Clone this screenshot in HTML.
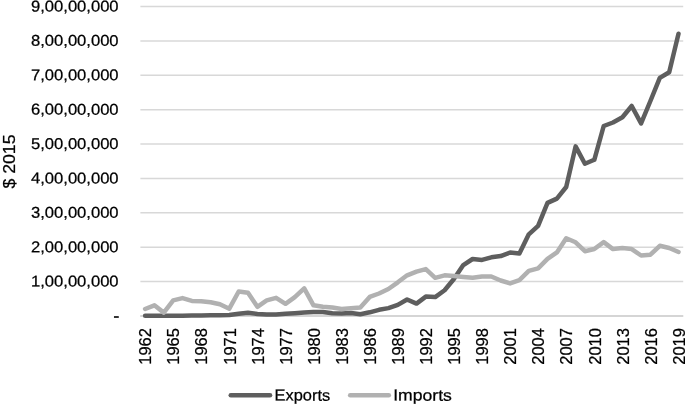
<!DOCTYPE html>
<html><head><meta charset="utf-8"><title>Exports and Imports</title>
<style>
html,body{margin:0;padding:0;background:#fff;}
body{width:685px;height:404px;overflow:hidden;}
svg{display:block;}
text{font-family:"Liberation Sans",sans-serif;fill:#000;stroke:#000;stroke-width:0.25px;}
</style></head><body>
<svg width="685" height="404" viewBox="0 0 685 404">
<rect width="685" height="404" fill="#fff"/>

<g stroke="#d8d8d8" stroke-width="1.5" fill="none">
<line x1="140.4" y1="6.50" x2="683.2" y2="6.50"/>
<line x1="140.4" y1="40.89" x2="683.2" y2="40.89"/>
<line x1="140.4" y1="75.28" x2="683.2" y2="75.28"/>
<line x1="140.4" y1="109.67" x2="683.2" y2="109.67"/>
<line x1="140.4" y1="144.06" x2="683.2" y2="144.06"/>
<line x1="140.4" y1="178.45" x2="683.2" y2="178.45"/>
<line x1="140.4" y1="212.84" x2="683.2" y2="212.84"/>
<line x1="140.4" y1="247.23" x2="683.2" y2="247.23"/>
<line x1="140.4" y1="281.62" x2="683.2" y2="281.62"/>
<line x1="140.4" y1="316.01" x2="683.2" y2="316.01"/>
</g>
<line x1="140.4" y1="316.01" x2="683.2" y2="316.01" stroke="#d0d0d0" stroke-width="1.6"/>
<g font-size="15.6" text-anchor="end">
<text transform="translate(118.6,11.50) rotate(0.05)" textLength="87.6" lengthAdjust="spacingAndGlyphs">9,00,00,000</text>
<text transform="translate(118.6,45.89) rotate(0.05)" textLength="87.6" lengthAdjust="spacingAndGlyphs">8,00,00,000</text>
<text transform="translate(118.6,80.28) rotate(0.05)" textLength="87.6" lengthAdjust="spacingAndGlyphs">7,00,00,000</text>
<text transform="translate(118.6,114.67) rotate(0.05)" textLength="87.6" lengthAdjust="spacingAndGlyphs">6,00,00,000</text>
<text transform="translate(118.6,149.06) rotate(0.05)" textLength="87.6" lengthAdjust="spacingAndGlyphs">5,00,00,000</text>
<text transform="translate(118.6,183.45) rotate(0.05)" textLength="87.6" lengthAdjust="spacingAndGlyphs">4,00,00,000</text>
<text transform="translate(118.6,217.84) rotate(0.05)" textLength="87.6" lengthAdjust="spacingAndGlyphs">3,00,00,000</text>
<text transform="translate(118.6,252.23) rotate(0.05)" textLength="87.6" lengthAdjust="spacingAndGlyphs">2,00,00,000</text>
<text transform="translate(118.6,286.62) rotate(0.05)" textLength="87.6" lengthAdjust="spacingAndGlyphs">1,00,00,000</text>
<text transform="translate(119.3,321.91) rotate(0.05)" font-size="18.5">-</text>
</g>
<polyline points="145.1,315.8 154.4,315.8 163.8,315.8 173.2,315.8 182.5,315.7 191.9,315.5 201.2,315.4 210.6,315.3 219.9,315.2 229.3,315.1 238.7,313.8 248.0,312.7 257.4,313.9 266.7,314.4 276.1,314.5 285.5,313.8 294.8,313.2 304.2,312.5 313.5,311.9 322.9,311.9 332.3,313.2 341.6,313.5 351.0,312.9 360.3,314.2 369.7,312.3 379.0,309.8 388.4,308.1 397.8,304.9 407.1,299.5 416.5,303.6 425.8,296.6 435.2,297.1 444.6,290.3 453.9,279.0 463.3,265.1 472.6,259.0 482.0,259.9 491.3,257.3 500.7,256.1 510.1,252.5 519.4,253.6 528.8,234.3 538.1,225.8 547.5,202.9 556.9,198.6 566.2,187.0 575.6,146.4 584.9,163.8 594.3,159.8 603.7,126.0 613.0,122.5 622.4,117.3 631.7,106.0 641.1,123.4 650.4,101.0 659.8,77.9 669.2,72.3 678.5,33.8" fill="none" stroke="#5e5e5e" stroke-width="4.5" stroke-linecap="round" stroke-linejoin="round"/>
<polyline points="145.1,309.0 154.4,305.3 163.8,312.6 173.2,300.4 182.5,298.1 191.9,300.9 201.2,301.2 210.6,302.3 219.9,304.3 229.3,308.7 238.7,291.5 248.0,292.7 257.4,306.8 266.7,300.4 276.1,297.8 285.5,303.8 294.8,297.1 304.2,288.3 313.5,305.3 322.9,306.8 332.3,307.5 341.6,309.0 351.0,308.3 360.3,307.5 369.7,296.9 379.0,293.5 388.4,289.0 397.8,282.3 407.1,275.3 416.5,271.6 425.8,269.1 435.2,277.8 444.6,275.3 453.9,276.1 463.3,276.9 472.6,277.8 482.0,276.5 491.3,276.5 500.7,280.5 510.1,283.4 519.4,280.1 528.8,270.9 538.1,268.3 547.5,258.8 556.9,252.4 566.2,238.3 575.6,242.3 584.9,251.2 594.3,249.0 603.7,242.1 613.0,249.1 622.4,248.0 631.7,249.1 641.1,255.5 650.4,254.7 659.8,245.8 669.2,248.0 678.5,252.0" fill="none" stroke="#b1b1b1" stroke-width="4.5" stroke-linecap="round" stroke-linejoin="round"/>
<g font-size="16.2" text-anchor="end">
<text transform="translate(151.33,328.1) rotate(-90)" textLength="36.7" lengthAdjust="spacingAndGlyphs">1962</text>
<text transform="translate(179.41,328.1) rotate(-90)" textLength="36.7" lengthAdjust="spacingAndGlyphs">1965</text>
<text transform="translate(207.48,328.1) rotate(-90)" textLength="36.7" lengthAdjust="spacingAndGlyphs">1968</text>
<text transform="translate(235.56,328.1) rotate(-90)" textLength="36.7" lengthAdjust="spacingAndGlyphs">1971</text>
<text transform="translate(263.63,328.1) rotate(-90)" textLength="36.7" lengthAdjust="spacingAndGlyphs">1974</text>
<text transform="translate(291.71,328.1) rotate(-90)" textLength="36.7" lengthAdjust="spacingAndGlyphs">1977</text>
<text transform="translate(319.78,328.1) rotate(-90)" textLength="36.7" lengthAdjust="spacingAndGlyphs">1980</text>
<text transform="translate(347.86,328.1) rotate(-90)" textLength="36.7" lengthAdjust="spacingAndGlyphs">1983</text>
<text transform="translate(375.94,328.1) rotate(-90)" textLength="36.7" lengthAdjust="spacingAndGlyphs">1986</text>
<text transform="translate(404.01,328.1) rotate(-90)" textLength="36.7" lengthAdjust="spacingAndGlyphs">1989</text>
<text transform="translate(432.09,328.1) rotate(-90)" textLength="36.7" lengthAdjust="spacingAndGlyphs">1992</text>
<text transform="translate(460.16,328.1) rotate(-90)" textLength="36.7" lengthAdjust="spacingAndGlyphs">1995</text>
<text transform="translate(488.24,328.1) rotate(-90)" textLength="36.7" lengthAdjust="spacingAndGlyphs">1998</text>
<text transform="translate(516.32,328.1) rotate(-90)" textLength="36.7" lengthAdjust="spacingAndGlyphs">2001</text>
<text transform="translate(544.39,328.1) rotate(-90)" textLength="36.7" lengthAdjust="spacingAndGlyphs">2004</text>
<text transform="translate(572.47,328.1) rotate(-90)" textLength="36.7" lengthAdjust="spacingAndGlyphs">2007</text>
<text transform="translate(600.54,328.1) rotate(-90)" textLength="36.7" lengthAdjust="spacingAndGlyphs">2010</text>
<text transform="translate(628.62,328.1) rotate(-90)" textLength="36.7" lengthAdjust="spacingAndGlyphs">2013</text>
<text transform="translate(656.69,328.1) rotate(-90)" textLength="36.7" lengthAdjust="spacingAndGlyphs">2016</text>
<text transform="translate(684.77,328.1) rotate(-90)" textLength="36.7" lengthAdjust="spacingAndGlyphs">2019</text>
</g>
<text font-size="16" transform="translate(14.8,161.5) rotate(-90)" text-anchor="middle" textLength="54" lengthAdjust="spacingAndGlyphs">$ 2015</text>
<line x1="230.8" y1="395.3" x2="270.0" y2="395.3" stroke="#5e5e5e" stroke-width="4.6" stroke-linecap="round"/>
<text transform="translate(274.6,400.6) rotate(0.05)" font-size="16.0" textLength="55.6" lengthAdjust="spacingAndGlyphs">Exports</text>
<line x1="350.2" y1="395.3" x2="388.8" y2="395.3" stroke="#b1b1b1" stroke-width="4.6" stroke-linecap="round"/>
<text transform="translate(393.2,400.6) rotate(0.05)" font-size="16.0" textLength="58.6" lengthAdjust="spacingAndGlyphs">Imports</text>
</svg></body></html>
